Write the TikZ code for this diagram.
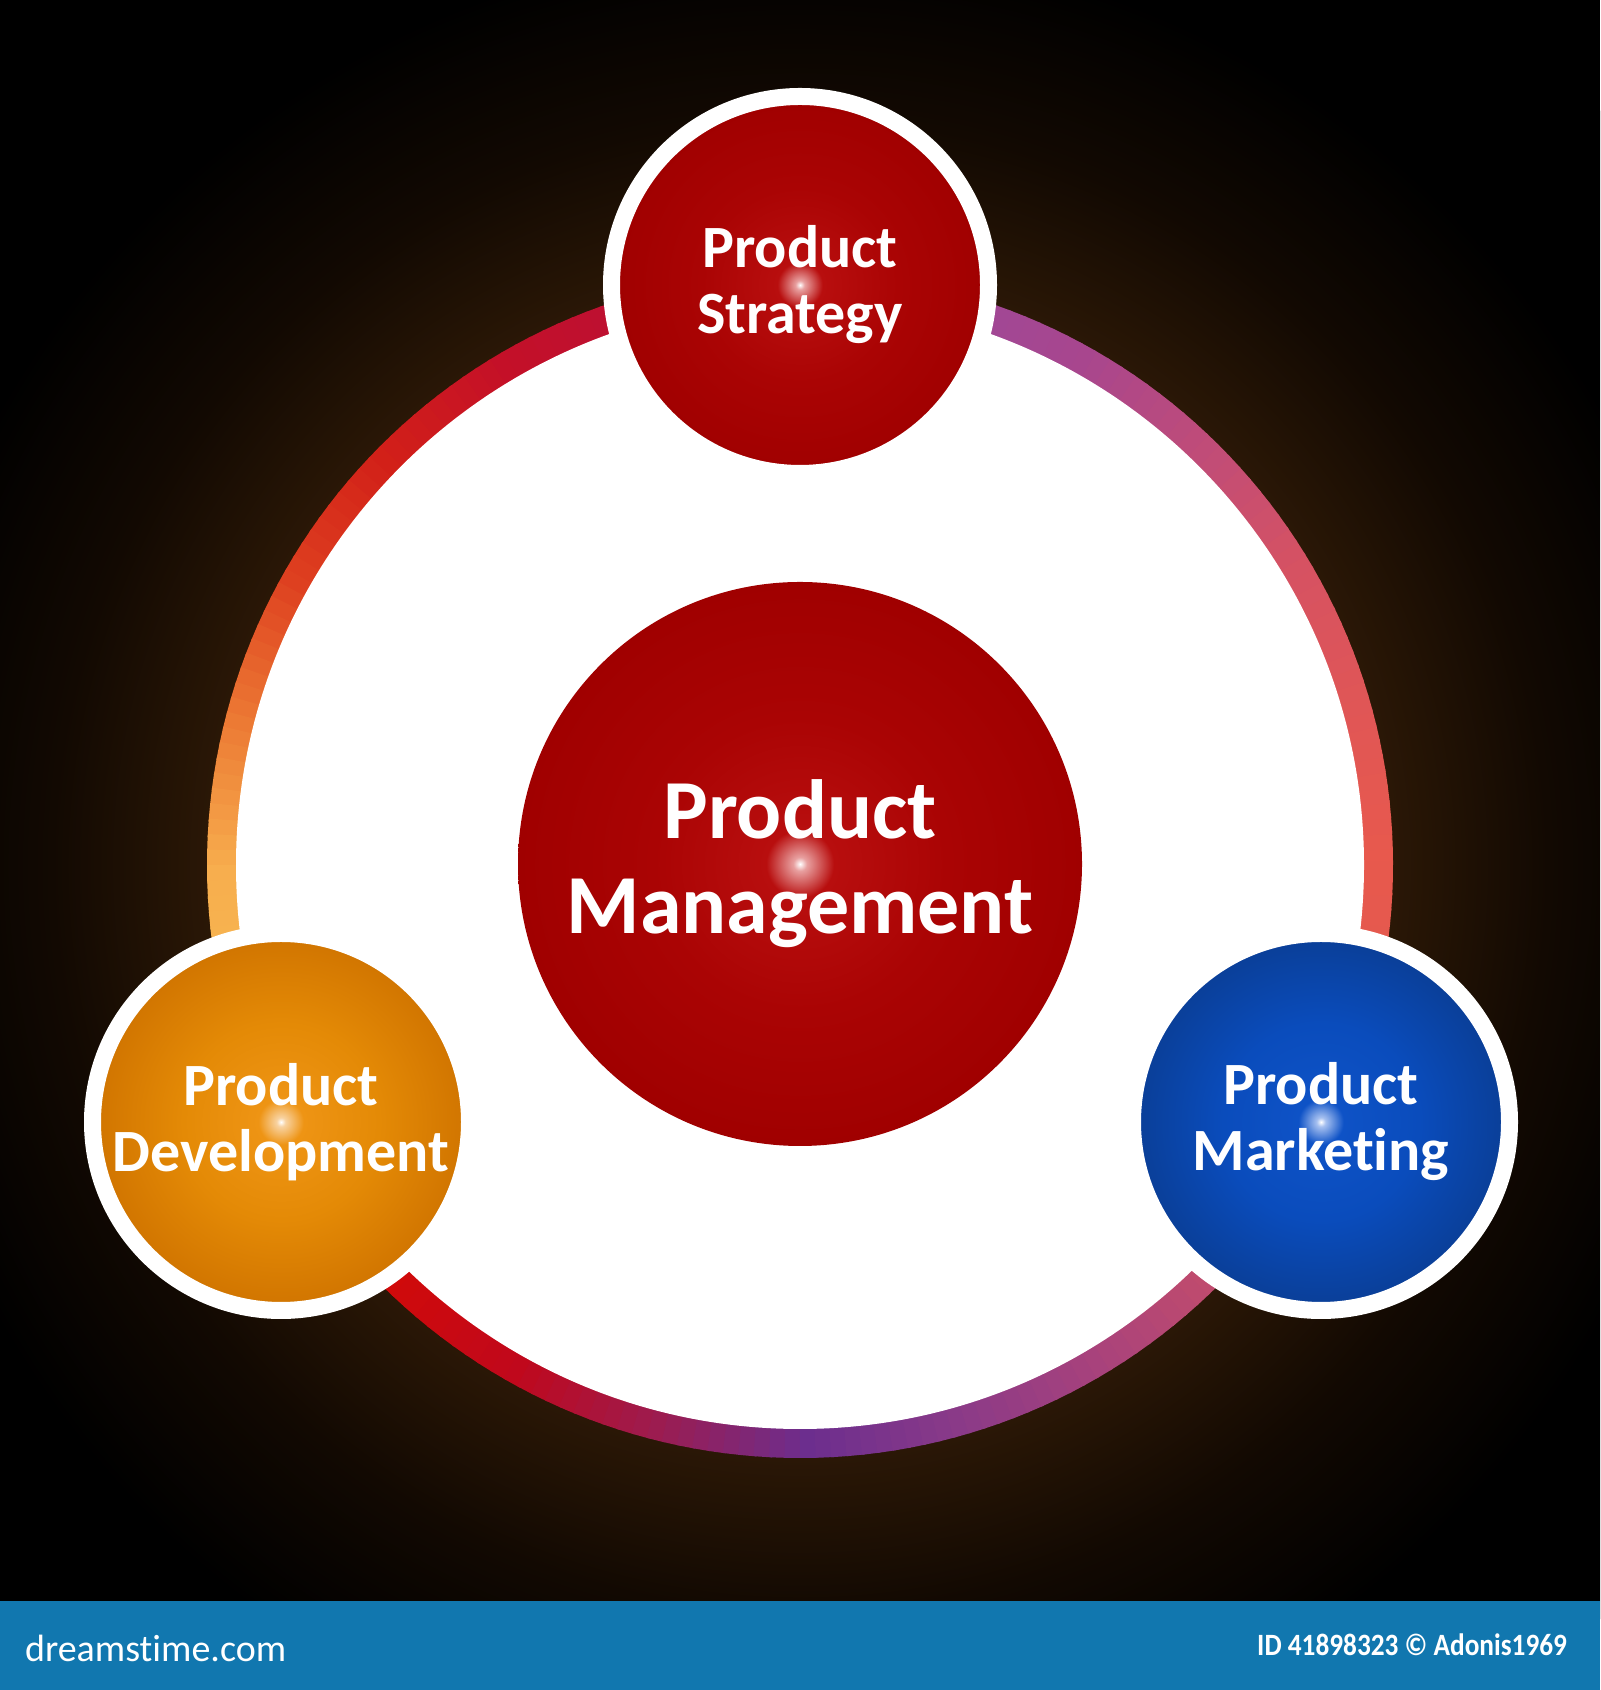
\documentclass[tikz,border=0pt]{standalone}
\usepackage{fontspec}
\setmainfont{Carlito}[Ligatures=NoCommon]
\newfontfamily\creditfont{Carlito}[FakeStretch=0.88]

\definecolor{glowin}{HTML}{2A1706}
\definecolor{glowmid}{HTML}{120902}
\definecolor{barblue}{HTML}{1177AF}
% sphere colours
\definecolor{redglow}{HTML}{E8A0A0}
\definecolor{redin}{HTML}{B80E0E}
\definecolor{redmid}{HTML}{AA0404}
\definecolor{redout}{HTML}{A00000}
\definecolor{orglow}{HTML}{F8D2A0}
\definecolor{orin}{HTML}{EE9414}
\definecolor{ormid}{HTML}{E48A06}
\definecolor{orout}{HTML}{D07400}
\definecolor{blglow}{HTML}{A6C0F0}
\definecolor{blin}{HTML}{0E52C6}
\definecolor{blmid}{HTML}{0A4CBC}
\definecolor{blout}{HTML}{0A3E96}

% the edge of a shaded circle lies at 25bp
\pgfdeclareradialshading{glow}{\pgfpoint{0bp}{0bp}}{color(0bp)=(glowin); color(13.5bp)=(glowin); color(17bp)=(glowmid); color(21bp)=(black); color(50bp)=(black)}
\pgfdeclareradialshading{redball}{\pgfpoint{0bp}{0bp}}{color(0bp)=(white); color(0.6bp)=(redglow); color(3bp)=(redin); color(13bp)=(redmid); color(25bp)=(redout); color(50bp)=(redout)}
\pgfdeclareradialshading{orangeball}{\pgfpoint{0bp}{0bp}}{color(0bp)=(white); color(0.6bp)=(orglow); color(3bp)=(orin); color(13bp)=(ormid); color(25bp)=(orout); color(50bp)=(orout)}
\pgfdeclareradialshading{blueball}{\pgfpoint{0bp}{0bp}}{color(0bp)=(white); color(0.6bp)=(blglow); color(3bp)=(blin); color(13bp)=(blmid); color(25bp)=(blout); color(50bp)=(blout)}

\tikzset{
  ring/.style={line width=15pt, line cap=butt},
  ball/.style={circle, shade, inner sep=0pt, text=white, align=center,
    font=\bfseries\fontsize{30}{33}\selectfont},
  rim/.style={draw=white, line width=8.5pt, minimum size=188.5pt}
}

\begin{document}
\begin{tikzpicture}[x=0.5pt,y=0.5pt]
\useasboundingbox (0,0) rectangle (1600,1690);
\clip (0,0) rectangle (1600,1690);
\fill[black] (0,0) rectangle (1600,1690);
\coordinate (centre) at (800,825);
\shade[shading=glow] (centre) circle (1100);

% colour ring
\foreach \hex [count=\k from 0] in {E8594D,E05656,D65262,C04C78,A8468E,9E4898,B01848,BC1034,C41028,D22018,DE4020,EC7A34,F7AE4E,F8B850,E03018,D00A0A,C0081C,9C1C50,6C2E8E,8A3A88,A8427C,C24C6C,D85460,E2584F,E8594D}
  {\xglobal\definecolor{rc\k}{HTML}{\hex}}
\foreach \k in {0,...,23}{
  \pgfmathtruncatemacro\nxt{\k+1}
  \foreach \s in {0,...,9}{
    \pgfmathtruncatemacro\p{100-10*\s}
    \pgfmathsetmacro\a{15*\k+1.5*\s}
    \draw[ring, draw=rc\k!\p!rc\nxt] (centre) ++(\a:578) arc[start angle=\a, delta angle=1.8, radius=578];
  }
}
\fill[white] (centre) circle (564);

% spheres
\node[ball, shading=redball, minimum size=282pt, font=\bfseries\fontsize{42}{47.5}\selectfont] (mgmt) at (800,826) {Product\\Management};
\node[ball, rim, shading=redball] (strategy) at (800,1405) {Product\\Strategy};
\node[ball, rim, shading=orangeball] (develop) at (281,568) {Product\\Development};
\node[ball, rim, shading=blueball] (marketing) at (1321,568) {Product\\Marketing};

% bottom bar
\fill[barblue] (0,0) rectangle (1600,89);
\node[anchor=west, text=white, font=\fontsize{19}{19}\selectfont] (site) at (18,42) {dreamstime.com};
\node[anchor=east, text=white, font=\creditfont\bfseries\fontsize{15.5}{15.5}\selectfont] (credit) at (1574,45) {ID 41898323 © Adonis1969};
\end{tikzpicture}
\end{document}
